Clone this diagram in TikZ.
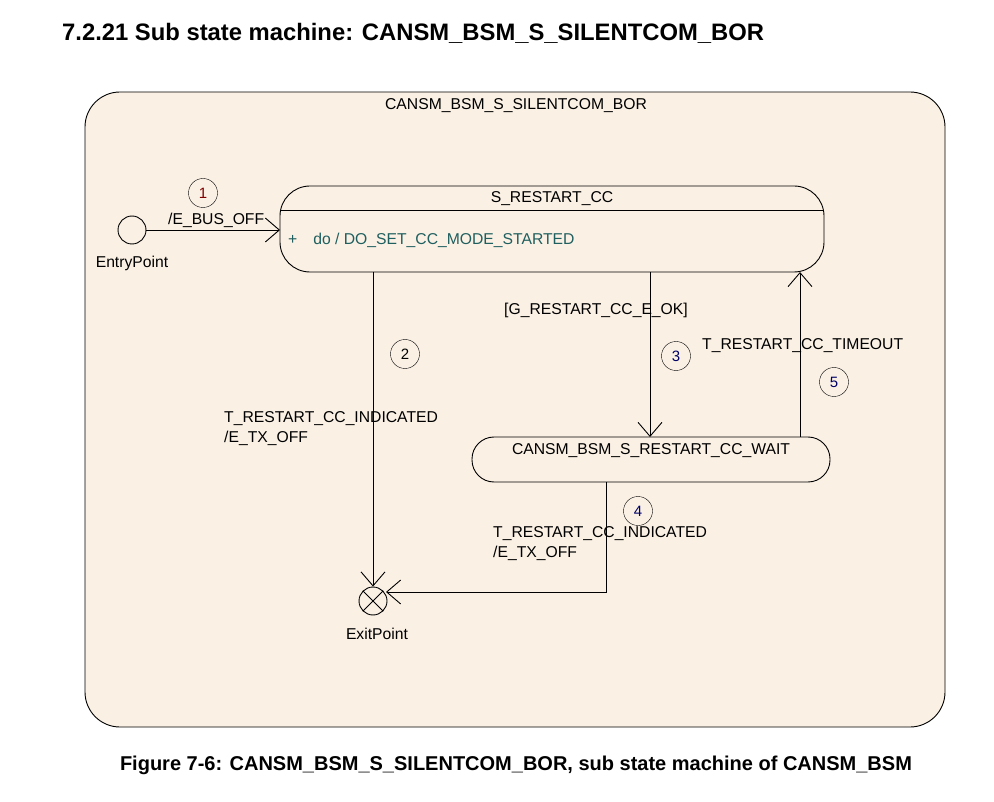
\documentclass[tikz,border=0pt]{standalone}
\usepackage{fontspec}
\setmainfont{Liberation Sans}
\usetikzlibrary{arrows.meta}
\definecolor{cream}{HTML}{FAF0E4}
\definecolor{teal2}{HTML}{1F5F5F}
\begin{document}
\begin{tikzpicture}[x=1pt,y=-1pt,
  lbl/.style={font=\fontsize{15.7}{18}\selectfont,inner sep=0pt},
  num/.style={circle,draw,thin,minimum size=29pt,inner sep=0pt,font=\fontsize{15}{17}\selectfont},
  tr/.style={draw,line width=0.9pt,-{Straight Barb[length=14pt,width=24pt,line width=0.9pt]}}]
\useasboundingbox (0,0) rectangle (994,802);
\node[anchor=west,font=\bfseries\fontsize{23.8}{28}\selectfont,inner sep=0pt] (title) at (62,33) {7.2.21 Sub state machine: CANSM\_BSM\_S\_SILENTCOM\_BOR};
\draw[fill=cream,line width=0.9pt,rounded corners=35pt] (85,92) rectangle (945,727);
\node[lbl] (outer) at (516,106) {CANSM\_BSM\_S\_SILENTCOM\_BOR};
% entry
\node[circle,draw,line width=0.9pt,minimum size=28pt,inner sep=0pt] (entry) at (132,230) {};
\node[lbl] (entrylbl) at (132,263) {EntryPoint};
% S_RESTART_CC
\draw[line width=0.9pt,rounded corners=30pt] (280,186) rectangle (824,272);
\draw[line width=0.9pt] (280,210) -- (824,210);
\node[lbl] (rctitle) at (552,199) {S\_RESTART\_CC};
\node[lbl,anchor=west,text=teal2] (rcdo) at (288,240) {+\hspace{16pt}do / DO\_SET\_CC\_MODE\_STARTED};
% wait
\draw[line width=0.9pt,rounded corners=22pt] (472,437) rectangle (830,482);
\node[lbl] (wait) at (651,451) {CANSM\_BSM\_S\_RESTART\_CC\_WAIT};
% exit
\node[circle,draw,line width=0.9pt,minimum size=28pt,inner sep=0pt] (exit) at (373,601) {};
\draw[line width=0.9pt] (exit.north east) -- (exit.south west) (exit.north west) -- (exit.south east);
\node[lbl] (exitlbl) at (377,634) {ExitPoint};
% coordinates
\coordinate (e1) at (280,230);
\coordinate (s2) at (373,272);
\coordinate (s3) at (650,272);
\coordinate (t3) at (650,437);
\coordinate (s5) at (800,437);
\coordinate (t5) at (800,272);
\coordinate (s4) at (606,482);
\coordinate (k4) at (606,592);
\coordinate (t4) at (386,592);
% transitions
\draw[tr] (entry.east) -- (e1);
\node[lbl,anchor=west] (l1) at (168,220) {/E\_BUS\_OFF};
\node[num,text=red!50!black] (n1) at (203,193) {1};
\draw[tr] (s2) -- (exit.north);
\node[num] (n2) at (405,354) {2};
\node[lbl,anchor=west,align=left] (l2) at (224,429) {T\_RESTART\_CC\_INDICATED\\[2pt]/E\_TX\_OFF};
\draw[tr] (s3) -- (t3);
\node[lbl] (l3) at (596,310) {[G\_RESTART\_CC\_E\_OK]};
\node[num,text=blue!40!black] (n3) at (676,356) {3};
\draw[tr] (s5) -- (t5);
\node[lbl,anchor=west] (l5) at (702,346) {T\_RESTART\_CC\_TIMEOUT};
\node[num,text=blue!40!black] (n5) at (834,382) {5};
\draw[tr] (s4) -- (k4) -- (t4);
\node[lbl,anchor=west,align=left] (l4) at (493,544) {T\_RESTART\_CC\_INDICATED\\[2pt]/E\_TX\_OFF};
\node[num,text=blue!40!black] (n4) at (638,511) {4};
\node[font=\bfseries\fontsize{20}{24}\selectfont,inner sep=0pt] (cap) at (516,765) {Figure 7-6: CANSM\_BSM\_S\_SILENTCOM\_BOR, sub state machine of CANSM\_BSM};
\end{tikzpicture}
\end{document}
